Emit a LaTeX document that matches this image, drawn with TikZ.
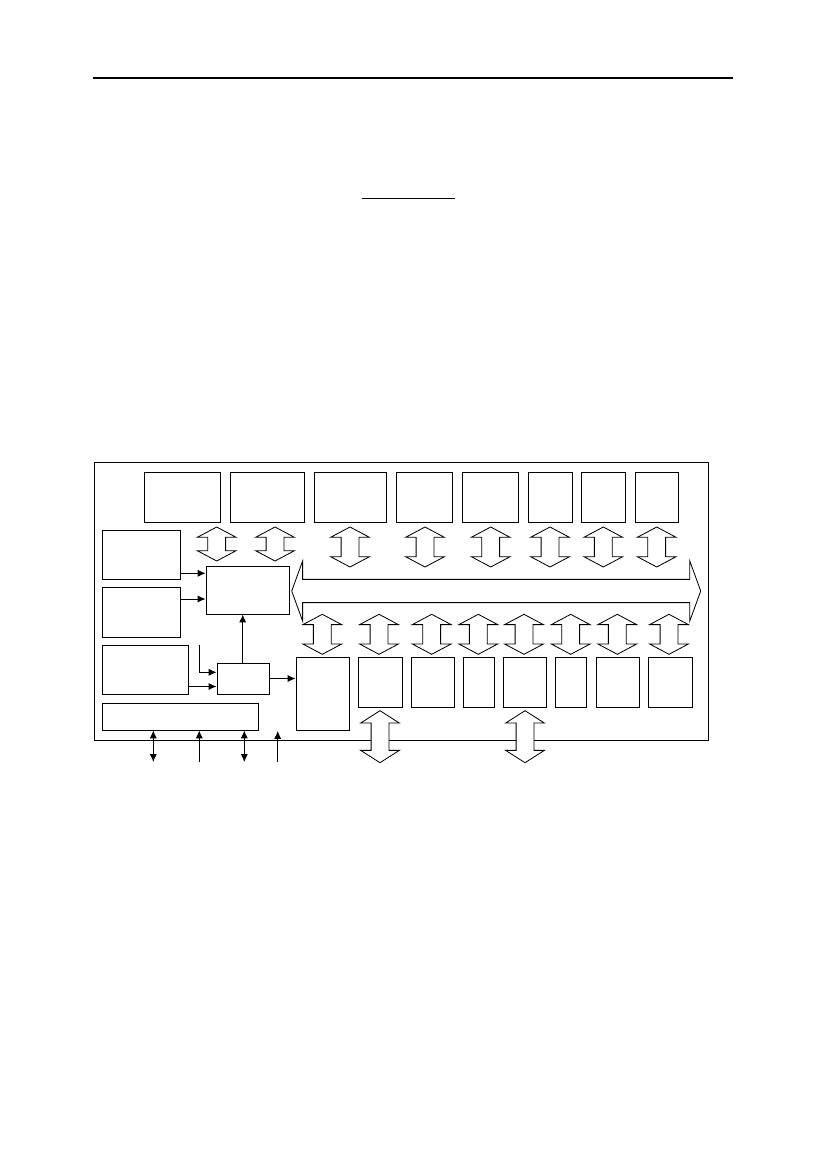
\documentclass[tikz,border=0pt]{standalone}
\usetikzlibrary{shapes.arrows,arrows.meta}
\newlength\pxu
\setlength\pxu{0.2542mm}

\begin{document}
\begin{tikzpicture}[x=0.2542mm,y=-0.2542mm]
\tikzset{bloc/.style={draw, rectangle, inner sep=0pt, line width=0.7pt},
  fleche/.style={-{Latex[length=2mm,width=1.8mm]}, line width=0.6pt},
  dfleche/.style={{Latex[length=2mm,width=1.8mm]}-{Latex[length=2mm,width=1.8mm]}, line width=0.6pt},
  vpijl/.style={double arrow, draw, fill=white, inner xsep=0pt, inner ysep=8.5*\pxu, line width=0.6pt, rotate=90,
    minimum width=38*\pxu, double arrow head extend=10.5*\pxu, double arrow tip angle=124},
  bus/.style={double arrow, draw, fill=white, inner xsep=0pt, inner ysep=11.2*\pxu, line width=0.6pt,
    minimum width=59*\pxu, double arrow head extend=18.3*\pxu, double arrow tip angle=140}}
\useasboundingbox (0,0) rectangle (826,1169);
\draw[line width=1pt] (93,78) -- (733,78);
\draw[line width=0.7pt] (362,198) -- (455,198);
\draw[line width=0.7pt] (94,462) rectangle (708,740);
% top row
\node[bloc, minimum width=76*\pxu, minimum height=50*\pxu] (T1) at (182,497) {};
\node[bloc, minimum width=74*\pxu, minimum height=50*\pxu] (T2) at (267,497) {};
\node[bloc, minimum width=72*\pxu, minimum height=50*\pxu] (T3) at (350,497) {};
\node[bloc, minimum width=56*\pxu, minimum height=50*\pxu] (T4) at (424,497) {};
\node[bloc, minimum width=56*\pxu, minimum height=50*\pxu] (T5) at (490,497) {};
\node[bloc, minimum width=44*\pxu, minimum height=50*\pxu] (T6) at (550,497) {};
\node[bloc, minimum width=44*\pxu, minimum height=50*\pxu] (T7) at (603,497) {};
\node[bloc, minimum width=43*\pxu, minimum height=50*\pxu] (T8) at (656.5,497) {};
% left column
\node[bloc, minimum width=78*\pxu, minimum height=49*\pxu] (L1) at (141,554.5) {};
\node[bloc, minimum width=78*\pxu, minimum height=50*\pxu] (L2) at (141,612) {};
\node[bloc, minimum width=86*\pxu, minimum height=49*\pxu] (L3) at (145,669.5) {};
\node[bloc, minimum width=156*\pxu, minimum height=27*\pxu] (cfg) at (180,716.5) {};
\node[bloc, minimum width=83*\pxu, minimum height=48*\pxu] (ctl) at (247.5,590) {};
\node[bloc, minimum width=52*\pxu, minimum height=31*\pxu] (sel) at (243,678.5) {};
% bottom row
\node[bloc, minimum width=53*\pxu, minimum height=73*\pxu] (B1) at (322.5,693.5) {};
\node[bloc, minimum width=44*\pxu, minimum height=50*\pxu] (B2) at (380,682) {};
\node[bloc, minimum width=43*\pxu, minimum height=50*\pxu] (B3) at (432.5,682) {};
\node[bloc, minimum width=31*\pxu, minimum height=50*\pxu] (B4) at (478.5,682) {};
\node[bloc, minimum width=43*\pxu, minimum height=50*\pxu] (B5) at (524.5,682) {};
\node[bloc, minimum width=31*\pxu, minimum height=50*\pxu] (B6) at (570.5,682) {};
\node[bloc, minimum width=43*\pxu, minimum height=50*\pxu] (B7) at (617.5,682) {};
\node[bloc, minimum width=44*\pxu, minimum height=50*\pxu] (B8) at (670,682) {};
% bus
\node[bus, minimum height=409*\pxu] (D) at (496.2,591) {};
\node[vpijl, minimum height=34*\pxu] (A1) at (216.7,544) {};
\node[vpijl, minimum height=34*\pxu] (A2) at (275,544) {};
\node[vpijl, minimum height=40*\pxu] (A3) at (350,547) {};
\node[vpijl, minimum height=40*\pxu] (A4) at (425,547) {};
\node[vpijl, minimum height=40*\pxu] (A5) at (490.7,547) {};
\node[vpijl, minimum height=40*\pxu] (A6) at (550,547) {};
\node[vpijl, minimum height=40*\pxu] (A7) at (603.3,547) {};
\node[vpijl, minimum height=40*\pxu] (A8) at (656.7,547) {};
\node[vpijl, minimum height=40*\pxu] (C1) at (322.3,634.3) {};
\node[vpijl, minimum height=40*\pxu] (C2) at (379,634.3) {};
\node[vpijl, minimum height=40*\pxu] (C3) at (431.7,634.3) {};
\node[vpijl, minimum height=40*\pxu] (C4) at (478.3,634.3) {};
\node[vpijl, minimum height=40*\pxu] (C5) at (524,634.3) {};
\node[vpijl, minimum height=40*\pxu] (C6) at (570.7,634.3) {};
\node[vpijl, minimum height=40*\pxu] (C7) at (617.3,634.3) {};
\node[vpijl, minimum height=40*\pxu] (C8) at (669,634.3) {};
\node[vpijl, minimum height=52*\pxu, double arrow tip angle=115] (E1) at (380,736.7) {};
\node[vpijl, minimum height=52*\pxu, double arrow tip angle=115] (E2) at (525,736.7) {};
% signals
\coordinate (inp) at (199.3,645);
\coordinate (p1) at (153.3,762);
\coordinate (p2) at (199.3,762);
\coordinate (p3) at (244.3,762);
\coordinate (p4) at (277.7,762);
\coordinate (p4t) at (277.7,731);
\draw[fleche] (L1.east |- 0,573.3) -- (ctl.west |- 0,573.3);
\draw[fleche] (L2.east |- 0,599) -- (ctl.west |- 0,599);
\draw[fleche] (L3.east |- 0,686.5) -- (sel.west |- 0,686.5);
\draw[fleche] (inp) |- (sel.west |- 0,672.3);
\draw[fleche] (sel.north -| 242.7,0) -- (ctl.south -| 242.7,0);
\draw[fleche] (sel.east) -- (sel.east -| B1.west);
\draw[dfleche] (p1) -- (p1 |- cfg.south);
\draw[fleche] (p2) -- (p2 |- cfg.south);
\draw[dfleche] (p3) -- (p3 |- cfg.south);
\draw[fleche] (p4) -- (p4t);
\end{tikzpicture}
\end{document}
